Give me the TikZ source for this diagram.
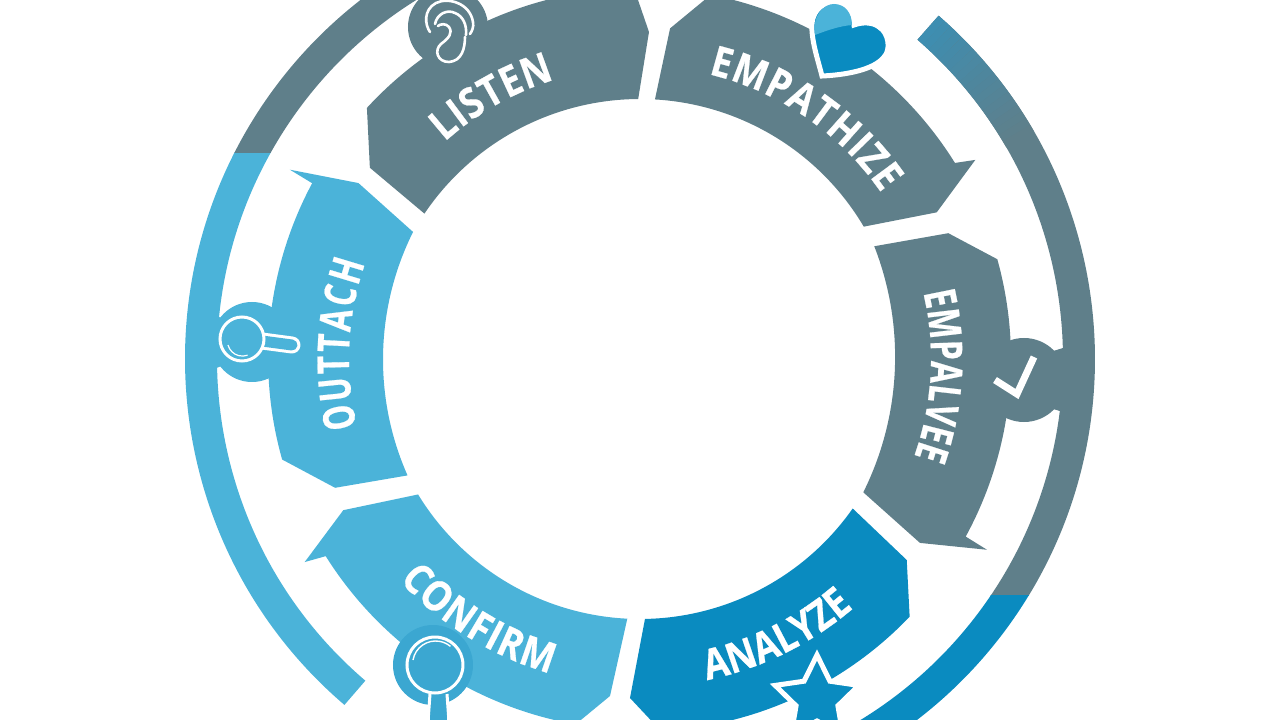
\documentclass[tikz,border=0pt]{standalone}
\usepackage{fontspec}
\usetikzlibrary{decorations.text,shapes.geometric}
\newfontfamily\stepfont[FakeStretch=0.87,FakeBold=0.5]{Open Sans}
\newfontfamily\narrowfont[FakeStretch=0.72,FakeBold=0.5]{Open Sans}
\definecolor{stepgray}{HTML}{5F7F8A}
\definecolor{stepblue}{HTML}{4BB3D9}
\definecolor{stepdark}{HTML}{0A8BC0}
\definecolor{iconblue}{HTML}{3BA7D1}
\definecolor{ringtop}{HTML}{3A8FB5}
\tikzset{
	ringpart/.style={line width=32pt},
	iconline/.style={draw=white,line width=2.6pt,line cap=round},
	pix/.style={shift={(-640,359)},y=-1pt},
	steptext/.style={decorate,decoration={text along path,text align={fit to path},text color=white,text={#1}}}
}
\newcommand{\labelfont}{\stepfont\bfseries\fontsize{42}{42}\selectfont}
\newcommand{\slimfont}{\narrowfont\bfseries\fontsize{44}{44}\selectfont}
\begin{document}
\begin{tikzpicture}[x=1pt,y=1pt]
	\useasboundingbox (-640,-361) rectangle (640,359);
	\clip (-640,-361) rectangle (640,359);
	%outer ring
	\begin{scope}
		\clip (0,-236) rectangle (640,359);
		\draw[ringpart,stepgray] (49:439) arc[start angle=49,end angle=-40,radius=439];
	\end{scope}
	\foreach \a [evaluate=\a as \m using (\a-30)*5] in {30,...,48}
	\draw[ringpart,ringtop!\m!stepgray] (\a+1:439) arc[start angle=\a+1,end angle=\a,radius=439];
	\begin{scope}
		\clip (0,-236) rectangle (640,-361);
		\draw[ringpart,stepdark] (-25:439) arc[start angle=-25,end angle=-80,radius=439];
	\end{scope}
	\begin{scope}
		\clip (0,206) rectangle (-640,-361);
		\draw[ringpart,stepblue] (229.5:439) arc[start angle=229.5,end angle=145,radius=439];
	\end{scope}
	\begin{scope}
		\clip (0,206) rectangle (-640,359);
		\draw[ringpart,stepgray] (160:439) arc[start angle=160,end angle=110,radius=439];
	\end{scope}
	%segments
	\fill[stepgray] (146:260) arc[start angle=146,end angle=90.4,radius=260]
	-- (9,327) -- (-3,362) -- (95:371) arc[start angle=95,end angle=137.4,radius=371]
	-- (144.7:331) -- cycle;
	\fill[stepgray] (86.7:260) arc[start angle=86.7,end angle=30.6,radius=260]
	-- (26.3:331) -- (30.7:390) -- (31.9:371) arc[start angle=31.9,end angle=79,radius=371]
	-- (84.8:332) -- cycle;
	\fill[stepgray] (25.7:260) arc[start angle=21.35,end angle=-26.45,radius=304]
	-- (-33.3:335) -- (-28.8:396) -- (-28.6:371) arc[start angle=-28.6,end angle=15.6,radius=371]
	-- (22.2:333) -- cycle;
	\fill[stepdark] (-88.9:260) arc[start angle=-88.9,end angle=-35.1,radius=260]
	-- (-37:334) -- (-43.7:373) arc[start angle=-43.7,end angle=-80,radius=371]
	-- (20,-371) -- (-10,-339) -- cycle;
	\fill[stepblue] (211.4:260) arc[start angle=211.4,end angle=267.2,radius=260]
	-- (-30,-337) -- (260:371) arc[start angle=260,end angle=212.1,radius=371]
	-- (211.2:392) -- (207:333) -- cycle;
	\fill[stepblue] (206.6:260) arc[start angle=203.9,end angle=153.5,radius=286]
	-- (148:332) -- (151.6:398) -- (151.8:372) arc[start angle=151.8,end angle=195.8,radius=371]
	-- (202.9:331) -- cycle;
	%labels
	\path[steptext={|\labelfont|LISTEN}] (132:292) arc[start angle=132,end angle=107,radius=292];
	\path[steptext={|\labelfont|EMPATHIZE}] (76.5:293) arc[start angle=76.5,end angle=34.5,radius=293];
	\path[steptext={|\slimfont|EMPALVEE}] (13.2:291) arc[start angle=13.2,end angle=-19.6,radius=291];
	\path[steptext={|\labelfont|ANALYZE}] (-78.2:328) arc[start angle=-78.2,end angle=-50,radius=328];
	\path[steptext={|\labelfont|CONFIRM}] (222.6:327) arc[start angle=222.6,end angle=254,radius=327];
	\path[steptext={|\slimfont|OUTTACH}] (193.5:291) arc[start angle=193.5,end angle=160.8,radius=291];
	%icons, in picture pixels
	\begin{scope}[pix]
		%ear
		\fill[stepgray] (448,27) circle[radius=40];
		\draw[iconline] (430,32) .. controls (425,25) and (423,10) .. (436,3) .. controls (448,-3) and (470,3) .. (473,22) .. controls (474,27) and (472,31) .. (470,34);
		\draw[iconline] (435,24) .. controls (437,14) and (447,9) .. (455,13) .. controls (463,16) and (467,25) .. (466,35);
		\draw[iconline] (465,37) .. controls (465,48) and (462,61) .. (449,62) .. controls (437,62) and (434,50) .. (441,44) .. controls (449,38) and (453,33) .. (449,27) .. controls (446,23) and (440,24) .. (438,26);
		%heart
		\filldraw[draw=white,line width=5pt,fill=stepdark] (822,76) .. controls (818,60) and (811,40) .. (812,24) .. controls (813,8) and (826,2) .. (834,2) .. controls (846,2) and (853,12) .. (854,25) .. controls (862,22) and (873,22) .. (879,27) .. controls (889,33) and (891,50) .. (884,57) .. controls (874,70) and (845,75) .. (822,76) -- cycle;
		\fill[stepblue] (815,35) .. controls (812,15) and (824,4) .. (834,4) .. controls (845,4) and (852,13) .. (852,25) .. controls (840,26) and (828,30) .. (815,35) -- cycle;
		%check
		\fill[stepgray] (1024,380) circle[radius=42];
		\fill[stepgray] (1050,352) -- (1063,348) -- (1063,412) -- (1050,408) -- cycle;
		\draw[white,line width=7pt] (995,380) -- (1017,394) -- (1034,357);
		%star
		\node (star) [star,star points=5,star point ratio=2,minimum size=88pt,inner sep=0pt,fill=stepdark,draw=white,line width=5pt] at (817,699) {};
		%magnifier bottom
		\fill[iconblue] (433,665) circle[radius=40];
		\fill[iconblue] (430,690) rectangle (447,722);
		\draw[white,line width=3pt] (435,665) circle[radius=28];
		\draw[white,line width=1.4pt] (413,660) arc[start angle=190,end angle=310,radius=23];
		\draw[white,line width=3pt] (430,694) -- (428,722) (447,694) -- (449,722);
		%magnifier left
		\fill[stepblue] (252,342) circle[radius=40];
		\fill[stepblue] (206,312) -- (232,322) -- (232,362) -- (206,372) -- cycle;
		\draw[white,line width=17pt,line cap=round] (262,341) -- (292,345);
		\draw[stepblue,line width=11pt,line cap=round] (262,341) -- (292,345);
		\filldraw[draw=white,line width=3pt,fill=stepblue] (242,339) circle[radius=22];
		\draw[white,line width=1.2pt] (228,345) arc[start angle=165,end angle=70,radius=15];
	\end{scope}
\end{tikzpicture}
\end{document}
